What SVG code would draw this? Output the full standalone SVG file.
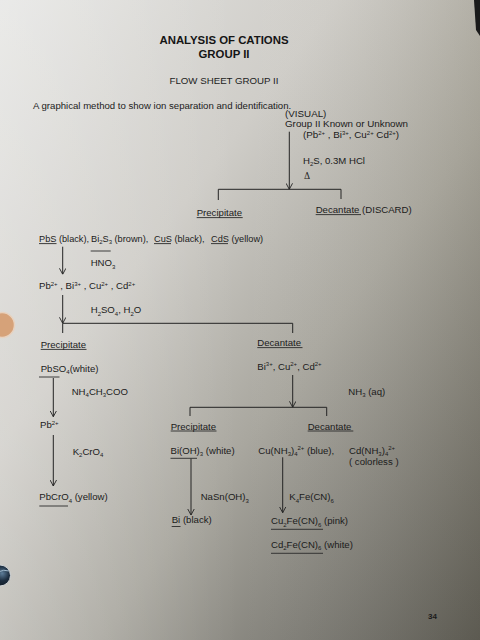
<svg xmlns="http://www.w3.org/2000/svg" width="480" height="640" viewBox="0 0 480 640">
<defs>
<linearGradient id="bg" x1="0" y1="0" x2="1" y2="1">
<stop offset="0" stop-color="#e6e6e4"/>
<stop offset="0.35" stop-color="#cfcdc8"/>
<stop offset="0.6" stop-color="#a9a79f"/>
<stop offset="1" stop-color="#56554f"/>
</linearGradient>
<linearGradient id="bg2" x1="0" y1="0" x2="1" y2="0">
<stop offset="0" stop-color="#ffffff" stop-opacity="0.18"/>
<stop offset="0.5" stop-color="#ffffff" stop-opacity="0"/>
<stop offset="1" stop-color="#8a7f60" stop-opacity="0.12"/>
</linearGradient>
<radialGradient id="hole" cx="0.6" cy="0.4" r="0.7">
<stop offset="0" stop-color="#5d7d99"/>
<stop offset="0.5" stop-color="#1c2d3f"/>
<stop offset="1" stop-color="#0f1822"/>
</radialGradient>
<marker id="ah" viewBox="0 0 10 12" refX="10" refY="6" markerWidth="6" markerHeight="7.2" markerUnits="userSpaceOnUse" orient="auto">
<path d="M0,0.6 L10,6 L0,11.4" fill="none" stroke="#222" stroke-width="1.5"/>
</marker>
<style>
.t{font-family:"Liberation Sans",Arial,sans-serif;font-size:9.6px;fill:#1b1b1b}
.h{font-family:"Liberation Sans",Arial,sans-serif;font-size:11.4px;font-weight:bold;fill:#151515}
.f{font-family:"Liberation Sans",Arial,sans-serif;font-size:9.7px;fill:#1d1d1d}
.p{font-size:9.2px}
.s{font-size:6px}
.ln{stroke:#242424;stroke-width:1;fill:none}
.ul{stroke:#2a2a2a;stroke-width:0.9}
.ar{stroke:#242424;stroke-width:1;fill:none;marker-end:url(#ah)}
</style>
</defs>

<g id="page">
<rect width="480" height="640" fill="url(#bg)"/>
<rect width="480" height="640" fill="url(#bg2)"/>
<polygon points="474,0 480,0 480,36 476,30" fill="#1a1a1a"/>
<circle cx="2" cy="325" r="12.5" fill="#d6a279" stroke="#e8d2bf" stroke-width="1.5"/>
<circle cx="0" cy="575.5" r="10.5" fill="url(#hole)" stroke="#cfd3d6" stroke-width="1"/>
<path d="M-2,572 Q4,569 9,571" stroke="#9fb8cc" stroke-width="1" fill="none"/>
</g>

<g id="title">
<text class="h" x="224" y="43.5" text-anchor="middle">ANALYSIS OF CATIONS</text>
<text class="h" x="224" y="58" text-anchor="middle">GROUP II</text>
<text class="f" x="224" y="84" text-anchor="middle">FLOW SHEET GROUP II</text>
<text class="t" x="33" y="108.5" style="font-size:9.6px">A graphical method to show ion separation and identification.</text>
</g>

<g id="start">
<text class="t" x="285" y="116.5" style="font-size:9.8px">(VISUAL)</text>
<text class="t" x="285" y="126.5" style="font-size:9.8px">Group II Known or Unknown</text>
<text class="t" x="303" y="138" style="font-size:9.8px">(Pb<tspan class="s" dy="-3.5">2+</tspan><tspan dy="3.5"> , Bi</tspan><tspan class="s" dy="-3.5">3+</tspan><tspan dy="3.5">, Cu</tspan><tspan class="s" dy="-3.5">2+</tspan><tspan dy="3.5"> Cd</tspan><tspan class="s" dy="-3.5">2+</tspan><tspan dy="3.5">)</tspan></text>
</g>

<g id="reagent1">
<text class="t" x="303" y="163.5">H<tspan class="s" dy="2.5">2</tspan><tspan dy="-2.5">S, 0.3M HCl</tspan></text>
<text class="t" x="304" y="179" style="font-family:'DejaVu Serif',serif;font-size:8.5px">Δ</text>
</g>

<g id="precip1">
<text class="t" x="196.7" y="215.5">Precipitate</text>
<line class="ul" x1="196.7" y1="217.6" x2="242.7" y2="217.6"/>
</g>

<g id="decant1">
<text class="t" x="315.7" y="212.5">Decantate (DISCARD)</text>
<line class="ul" x1="315.7" y1="214.6" x2="361" y2="214.6"/>
</g>

<g id="sulfides">
<text class="t p" x="39" y="241.5">PbS (black),</text>
<text class="t p" x="91" y="241.5">Bi<tspan class="s" dy="2.5">2</tspan><tspan dy="-2.5">S</tspan><tspan class="s" dy="2.5">3</tspan><tspan dy="-2.5"> (brown),</tspan></text>
<text class="t p" x="154" y="241.5">CuS (black),</text>
<text class="t p" x="211" y="241.5">CdS (yellow)</text>
<line class="ul" x1="39" y1="243.6" x2="56.5" y2="243.6"/>
<line class="ul" x1="90.7" y1="251" x2="110.7" y2="251"/>
<line class="ul" x1="154" y1="243.6" x2="171" y2="243.6"/>
<line class="ul" x1="211" y1="243.6" x2="228" y2="243.6"/>
</g>

<g id="reagent2">
<text class="t" x="90.7" y="266">HNO<tspan class="s" dy="2.5">3</tspan></text>
</g>

<g id="ions1">
<text class="t" x="39" y="289">Pb<tspan class="s" dy="-3.5">2+</tspan><tspan dy="3.5"> , Bi</tspan><tspan class="s" dy="-3.5">3+</tspan><tspan dy="3.5"> , Cu</tspan><tspan class="s" dy="-3.5">2+</tspan><tspan dy="3.5"> , Cd</tspan><tspan class="s" dy="-3.5">2+</tspan></text>
</g>

<g id="reagent3">
<text class="t" x="90.7" y="313">H<tspan class="s" dy="2.5">2</tspan><tspan dy="-2.5">SO</tspan><tspan class="s" dy="2.5">4</tspan><tspan dy="-2.5">, H</tspan><tspan class="s" dy="2.5">2</tspan><tspan dy="-2.5">O</tspan></text>
</g>

<g id="precip2">
<text class="t" x="40.7" y="347.5">Precipitate</text>
<line class="ul" x1="40.7" y1="349.4" x2="86.5" y2="349.4"/>
</g>

<g id="decant2">
<text class="t" x="257.3" y="345.5">Decantate</text>
<line class="ul" x1="257.3" y1="347.6" x2="302.5" y2="347.6"/>
</g>

<g id="pbso4">
<text class="t" x="40.7" y="371.5">PbSO<tspan class="s" dy="2.5">4</tspan><tspan dy="-2.5">(white)</tspan></text>
<line class="ul" x1="39" y1="377" x2="59.5" y2="377"/>
</g>

<g id="ions2">
<text class="t" x="257.3" y="369.5">Bi<tspan class="s" dy="-3.5">3+</tspan><tspan dy="3.5">, Cu</tspan><tspan class="s" dy="-3.5">2+</tspan><tspan dy="3.5">, Cd</tspan><tspan class="s" dy="-3.5">2+</tspan></text>
</g>

<g id="reagent4">
<text class="t" x="71.7" y="394.5">NH<tspan class="s" dy="2.5">4</tspan><tspan dy="-2.5">CH</tspan><tspan class="s" dy="2.5">3</tspan><tspan dy="-2.5">COO</tspan></text>
</g>

<g id="reagent5">
<text class="t" x="348.3" y="394.5">NH<tspan class="s" dy="2.5">3</tspan><tspan dy="-2.5"> (aq)</tspan></text>
</g>

<g id="pb2">
<text class="t" x="40" y="428">Pb<tspan class="s" dy="-3.5">2+</tspan></text>
</g>

<g id="reagent6">
<text class="t" x="72.7" y="454.5">K<tspan class="s" dy="2.5">2</tspan><tspan dy="-2.5">CrO</tspan><tspan class="s" dy="2.5">4</tspan></text>
</g>

<g id="pbcro4">
<text class="t" x="39.3" y="500">PbCrO<tspan class="s" dy="2.5">4</tspan><tspan dy="-2.5"> (yellow)</tspan></text>
<line class="ul" x1="39.3" y1="506" x2="68" y2="506"/>
</g>

<g id="precip3">
<text class="t" x="170.7" y="429.5">Precipitate</text>
<line class="ul" x1="170.7" y1="431" x2="216.5" y2="431"/>
</g>

<g id="decant3">
<text class="t" x="307.7" y="429.5">Decantate</text>
<line class="ul" x1="307.7" y1="431" x2="353.3" y2="431"/>
</g>

<g id="bioh3">
<text class="t" x="170.5" y="453.5">Bi(OH)<tspan class="s" dy="2.5">3</tspan><tspan dy="-2.5"> (white)</tspan></text>
<line class="ul" x1="170.5" y1="458.3" x2="197" y2="458.3"/>
</g>

<g id="cuamm">
<text class="t" x="258.3" y="453.5">Cu(NH<tspan class="s" dy="2.5">3</tspan><tspan dy="-2.5">)</tspan><tspan class="s" dy="2.5">4</tspan><tspan class="s" dy="-6.5">2+</tspan><tspan dy="4"> (blue),</tspan></text>
</g>

<g id="cdamm">
<text class="t" x="349" y="453.5">Cd(NH<tspan class="s" dy="2.5">3</tspan><tspan dy="-2.5">)</tspan><tspan class="s" dy="2.5">4</tspan><tspan class="s" dy="-6.5">2+</tspan></text>
<text class="t" x="349" y="465">( colorless )</text>
</g>

<g id="reagent7">
<text class="t" x="200.7" y="500">NaSn(OH)<tspan class="s" dy="2.5">3</tspan></text>
</g>

<g id="reagent8">
<text class="t" x="289.3" y="500">K<tspan class="s" dy="2.5">4</tspan><tspan dy="-2.5">Fe(CN)</tspan><tspan class="s" dy="2.5">6</tspan></text>
</g>

<g id="bi">
<text class="t" x="171.7" y="523">Bi (black)</text>
<line class="ul" x1="171.7" y1="526.5" x2="180.5" y2="526.5"/>
</g>

<g id="cu2fe">
<text class="t" x="271" y="524">Cu<tspan class="s" dy="2.5">2</tspan><tspan dy="-2.5">Fe(CN)</tspan><tspan class="s" dy="2.5">6</tspan><tspan dy="-2.5"> (pink)</tspan></text>
<line class="ul" x1="271" y1="529.3" x2="323" y2="529.3"/>
</g>

<g id="cd2fe">
<text class="t" x="271" y="547.5">Cd<tspan class="s" dy="2.5">2</tspan><tspan dy="-2.5">Fe(CN)</tspan><tspan class="s" dy="2.5">6</tspan><tspan dy="-2.5"> (white)</tspan></text>
<line class="ul" x1="271" y1="553.3" x2="323" y2="553.3"/>
</g>

<g id="pagenum">
<text class="t" x="428" y="618.5" style="font-size:8px;font-weight:bold">34</text>
</g>

<g id="connectors">
<line class="ar" x1="289.3" y1="131.7" x2="289.3" y2="189.3"/>
<polyline class="ln" points="218.3,200 218.3,189.3 341,189.3 341,199"/>
<line class="ar" x1="62.7" y1="246.7" x2="62.7" y2="274.3"/>
<line class="ar" x1="62.7" y1="295" x2="62.7" y2="323.3"/>
<polyline class="ln" points="62.7,323.3 62.7,333"/>
<polyline class="ln" points="62.7,323.3 292.7,323.3 292.7,333"/>
<line class="ar" x1="53.3" y1="378" x2="53.3" y2="416.7"/>
<line class="ar" x1="53.3" y1="435" x2="53.3" y2="486"/>
<line class="ar" x1="292.7" y1="375" x2="292.7" y2="407.3"/>
<polyline class="ln" points="190,416 190,407.3 326.7,407.3 326.7,416"/>
<line class="ar" x1="191" y1="458.5" x2="191" y2="515"/>
<line class="ar" x1="282.7" y1="457.3" x2="282.7" y2="512.7"/>
</g>
</svg>
